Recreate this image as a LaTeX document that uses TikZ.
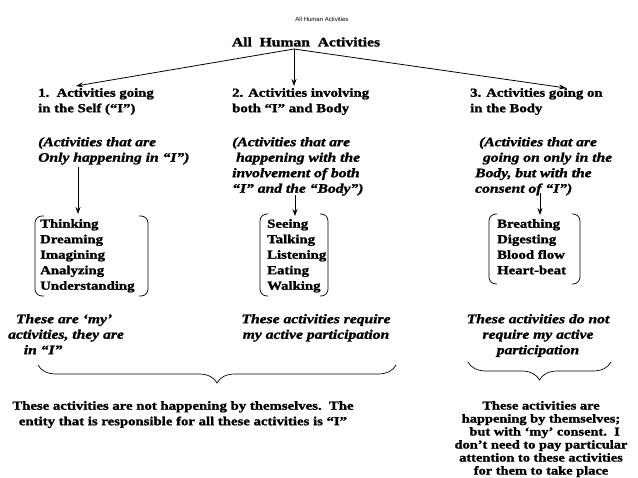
\documentclass[tikz,border=0pt]{standalone}
\usepackage{fontspec}
\setmainfont[FakeStretch=1.2,FakeBold=1.5]{Liberation Serif}
\newfontfamily\sansf{Liberation Sans}
\usetikzlibrary{decorations.pathreplacing,arrows.meta}
\begin{document}
\begin{tikzpicture}[x=1pt,y=-1pt,
  bt/.style={font=\fontsize{12.3}{15.5}\selectfont\bfseries,align=left,inner sep=0pt,anchor=north west},
  it/.style={font=\fontsize{13}{15.5}\selectfont\bfseries\itshape,align=left,inner sep=0pt,anchor=north west},
  arr/.style={-{Stealth[length=7pt,width=5pt]},line width=0.8pt},
  brk/.style={line width=0.7pt,rounded corners=7pt},
  br/.style={decorate,decoration={brace,amplitude=18pt},line width=0.7pt}]
\useasboundingbox (0,0) rectangle (638,478);
\node[font=\sansf\fontsize{6}{7}\selectfont] (hdr) at (322,19) {All Human Activities};
\node[font=\fontsize{13}{15}\selectfont\bfseries,inner sep=1pt] (title) at (306,42) {All\ \ Human\ \ Activities};
\coordinate (o) at (294,49);
\node[bt] (h1) at (38,88) {1.\ \ Activities going\\in the Self (``I'')};
\node[bt] (h2) at (232,88) {2. Activities involving\\both ``I'' and Body};
\node[bt] (h3) at (470,88) {3. Activities going on\\in the Body};
\draw[arr] (o) -- (76,86);
\draw[arr] (o) -- (294,86);
\draw[arr] (o) -- (566,88);
\node[it] (i1) at (38,137) {(Activities that are\\Only happening in ``I'')};
\node[it] (i2) at (232,137) {(Activities that are\\\ happening with the\\involvement of both\\``I'' and the ``Body'')};
\node[it] (i3) at (475,137) {\ (Activities that are\\\ \ going on only in the\\Body, but with the\\consent of ``I'')};
\coordinate (a1) at (78,167); \coordinate (b1) at (78,214);
\coordinate (a2) at (295,195); \coordinate (b2) at (295,216);
\coordinate (a3) at (540,193); \coordinate (b3) at (540,215);
\draw[arr] (a1) -- (b1); \draw[arr] (a2) -- (b2); \draw[arr] (a3) -- (b3);
% brackets
\draw[brk] (44,216) -- (35,216) -- (35,296) -- (44,296);
\draw[brk] (139,216) -- (148,216) -- (148,296) -- (139,296);
\draw[brk] (268,214) -- (260,214) -- (260,296) -- (268,296);
\draw[brk] (320,214) -- (328,214) -- (328,296) -- (320,296);
\draw[brk] (497,214) -- (489,214) -- (489,284) -- (497,284);
\draw[brk] (572,214) -- (580,214) -- (580,284) -- (572,284);
\node[bt] (l1) at (40,219) {Thinking\\Dreaming\\Imagining\\Analyzing\\Understanding};
\node[bt] (l2) at (267,219) {Seeing\\Talking\\Listening\\Eating\\Walking};
\node[bt] (l3) at (497,219) {Breathing\\Digesting\\Blood flow\\Heart-beat};
\node[it] (t1) at (8,314) {\ \ These are `my'\\activities, they are\\\ \ \ \ in ``I''};
\node[it,align=center,anchor=north] (t2) at (316,314) {These activities require\\my active participation};
\node[it,align=center,anchor=north] (t3) at (538,314) {These activities do not\\require my active\\participation};
\draw[br] (396,365) -- (38,365);
\draw[br] (611,362) -- (468,362);
\node[bt,align=center,anchor=north] (f1) at (183,401) {These activities are not happening by themselves.\ \ The\\entity that is responsible for all these activities is ``I''};
\node[bt,align=center,anchor=north,font=\fontsize{12}{13}\selectfont\bfseries] (f2) at (541,401) {These activities are\\happening by themselves;\\\ \ but with `my' consent.\ \ I\\don't need to pay particular\\attention to these activities\\for them to take place};
\end{tikzpicture}
\end{document}
